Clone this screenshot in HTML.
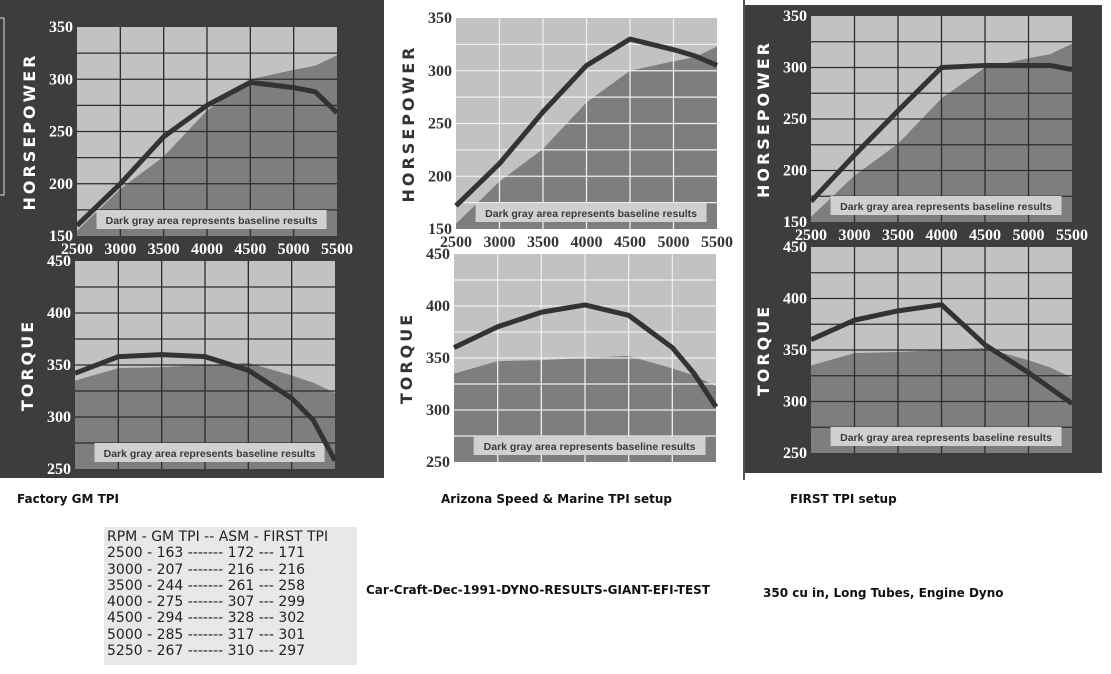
<!DOCTYPE html>
<html><head><meta charset="utf-8"><style>
body{margin:0;width:1111px;height:674px;background:#fff;overflow:hidden;font-family:"Liberation Sans",sans-serif;position:relative}
.cap{position:absolute;font-weight:bold;font-size:12px;color:#111;font-family:"DejaVu Sans","Liberation Sans",sans-serif}
#tbl{position:absolute;left:104px;top:527px;width:253px;height:138px;background:#e8e8e8;font-family:"DejaVu Sans","Liberation Sans",sans-serif;font-size:14px;line-height:16.3px;color:#222;padding:2px 0 0 3px;box-sizing:border-box;white-space:pre}
</style></head><body>
<svg id="svg" width="1111" height="674" style="position:absolute;left:0;top:0"></svg>
<div class="cap" style="left:17px;top:492px">Factory GM TPI</div>
<div class="cap" style="left:441px;top:492px">Arizona Speed &amp; Marine TPI setup</div>
<div class="cap" style="left:790px;top:492px">FIRST TPI setup</div>
<div class="cap" style="left:366px;top:583px">Car-Craft-Dec-1991-DYNO-RESULTS-GIANT-EFI-TEST</div>
<div class="cap" style="left:763px;top:586px">350 cu in, Long Tubes, Engine Dyno</div>
<div id="tbl">RPM - GM TPI -- ASM - FIRST TPI
2500 - 163 ------- 172 --- 171
3000 - 207 ------- 216 --- 216
3500 - 244 ------- 261 --- 258
4000 - 275 ------- 307 --- 299
4500 - 294 ------- 328 --- 302
5000 - 285 ------- 317 --- 301
5250 - 267 ------- 310 --- 297</div>
<script>
const rpms=[2500,3000,3500,4000,4500,5000,5250,5500];
const xTicks=[2500,3000,3500,4000,4500,5000,5500];
const hpTicks=[150,200,250,300,350];
const tqTicks=[250,300,350,400,450];
const baseHp=[155,195,226,270,300,309,313,323];
const baseTq=[335,347,348,350,352,340,333,323];
const gmHp=[160,200,245,275,297,292,288,268];
const gmTq=[342,358,360,358,345,318,297,258];
const asmHp=[172,212,261,305,330,320,314,305];
const asmTq=[360,380,394,401,391,360,335,303];
const firstHp=[170,215,258,300,302,302,302,298];
const firstTq=[360,379,388,394,355,328,313,298];

const NS='http://www.w3.org/2000/svg';
const svg=document.getElementById('svg');
function mk(tag,attrs,parent){const e=document.createElementNS(NS,tag);for(const k in attrs)e.setAttribute(k,attrs[k]);(parent||svg).appendChild(e);return e;}

function chart(g,x0,y0,w,h,ticks,base,line,gridCol,lblCol,title,name,xlabY){
  const xs=v=>x0+(v-2500)/3000*w;
  const ys=v=>y0+h-(v-ticks[0])/(ticks[ticks.length-1]-ticks[0])*h;
  const bg=mk('rect',{x:x0,y:y0,width:w,height:h,fill:'#c2c2c2'},g);
  
  
  let d='M'+xs(rpms[0])+','+(y0+h);
  rpms.forEach((r,i)=>d+=' L'+xs(r)+','+ys(base[i]));
  d+=' L'+xs(rpms[rpms.length-1])+','+(y0+h)+' Z';
  const area=mk('path',{d:d,fill:'#7e7e7e'},g);
  
  
  const step=(ticks[1]-ticks[0])/2;
  for(let v=ticks[0]+step;v<ticks[ticks.length-1];v+=step){
    const l=mk('line',{x1:x0,x2:x0+w,y1:ys(v),y2:ys(v),stroke:gridCol,'stroke-width':1.3},g);
    
    
  }
  xTicks.slice(1,-1).forEach(t=>{
    const l=mk('line',{x1:xs(t),x2:xs(t),y1:y0,y2:y0+h,stroke:gridCol,'stroke-width':1.3},g);
    
    
  });
  const bw=w*0.885,bx=x0+w*0.075,by=y0+h-26;
  const box=mk('rect',{x:bx,y:by,width:bw,height:19,fill:'#d0d0d0'},g);
  
  
  const nt=mk('text',{x:bx+bw/2,y:by+14,'text-anchor':'middle','font-size':'10.5','font-weight':'bold',fill:'#3a3a3a','font-family':'Liberation Sans, sans-serif'},g);
  nt.textContent='Dark gray area represents baseline results';
  
  
  const pts=rpms.map((r,i)=>xs(r)+','+ys(line[i])).join(' ');
  const pl=mk('polyline',{points:pts,fill:'none',stroke:'#333','stroke-width':5,'stroke-linejoin':'round'},g);
  
  
  ticks.forEach(t=>{
    const tx=mk('text',{x:x0-4,y:ys(t)+5,'text-anchor':'end','font-size':'16','font-weight':'bold',fill:lblCol,'font-family':'Liberation Serif, serif'},g);
    tx.textContent=t;
    
    
  });
  const tt=mk('text',{x:0,y:0,'text-anchor':'middle','font-size':'16','font-weight':'bold',fill:lblCol,'letter-spacing':'3','font-family':'DejaVu Sans, sans-serif',transform:'translate('+(x0-42)+','+(y0+h/2)+') rotate(-90)'},g);
  tt.textContent=title;
  
  
  if(xlabY){
    xTicks.forEach(t=>{
      const tx=mk('text',{x:xs(t),y:xlabY,'text-anchor':'middle','font-size':'16','font-weight':'bold',fill:lblCol,'font-family':'Liberation Serif, serif'},g);
      tx.textContent=t;
      
      
    });
  }
}
// left panel
const p1=mk('rect',{x:0,y:0,width:384,height:478,fill:'#3d3d3d'});


mk('rect',{x:-2,y:18,width:6,height:177,fill:'none',stroke:'#ddd','stroke-width':1});
chart(svg,77,27,260,209,hpTicks,baseHp,gmHp,'#2c2c2c','#fff','HORSEPOWER','gm-hp',254);
chart(svg,75,261,260,208,tqTicks,baseTq,gmTq,'#2c2c2c','#fff','TORQUE','gm-torque',null);
// middle
chart(svg,456,18,261,211,hpTicks,baseHp,asmHp,'#eeeeee','#333','HORSEPOWER','asm-hp',247);
chart(svg,454,254,262,208,tqTicks,baseTq,asmTq,'#eeeeee','#333','TORQUE','asm-torque',null);
mk('rect',{x:743,y:0,width:2,height:480,fill:'#555'});
// right
const p3=mk('rect',{x:745,y:5,width:357,height:468,fill:'#3d3d3d'});


chart(svg,811,16,261,206,hpTicks,baseHp,firstHp,'#2c2c2c','#fff','HORSEPOWER','first-hp',240);
chart(svg,811,247,261,206,tqTicks,baseTq,firstTq,'#2c2c2c','#fff','TORQUE','first-torque',null);
</script>
</body></html>
